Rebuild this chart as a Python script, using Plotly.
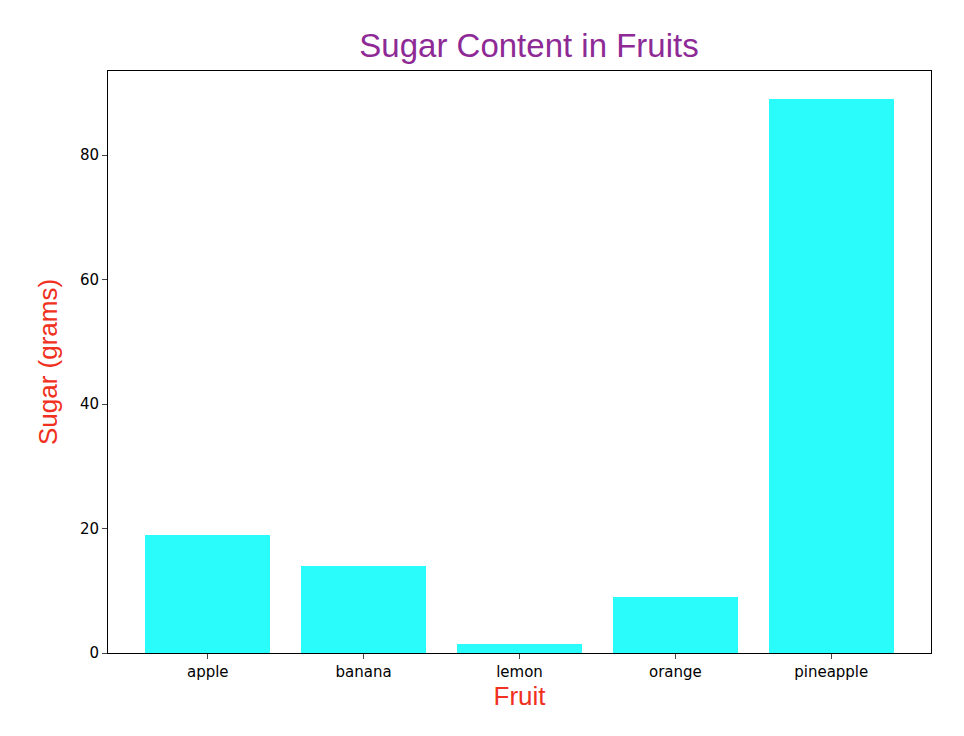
import plotly.graph_objects as go

fruits = ["apple", "banana", "lemon", "orange", "pineapple"]
sugar = [19, 14, 1.5, 9, 89]

fig = go.Figure(go.Bar(x=list(range(len(fruits))), y=sugar, width=0.8,
                       marker=dict(color="#2afcfc", line=dict(width=0))))
fig.update_layout(
    width=956, height=728, paper_bgcolor="white", plot_bgcolor="white",
    margin=dict(l=100, r=33, t=63, b=83),
    font=dict(family="DejaVu Sans", color="black", size=15),
    title=dict(text="Sugar Content in Fruits", x=0.545, xanchor="center", y=0.948, yanchor="middle",
               font=dict(family="Liberation Sans", size=33, color="#8e2a96")),
    showlegend=False,
    bargap=0,
)
fig.update_xaxes(range=[-0.64, 4.64], tickvals=list(range(len(fruits))), ticktext=fruits,
                 showline=True, mirror=True, linecolor="black", linewidth=1,
                 ticks="outside", ticklen=5, showgrid=False, zeroline=False,
                 title=dict(text="Fruit", font=dict(family="Liberation Sans", size=26, color="#f03020"), standoff=6))
fig.update_yaxes(range=[0, 93.5], tickvals=[0, 20, 40, 60, 80],
                 showline=True, mirror=True, linecolor="black", linewidth=1,
                 ticks="outside", ticklen=5, showgrid=False, zeroline=False,
                 title=dict(text="Sugar (grams)", font=dict(family="Liberation Sans", size=26, color="#f03020"), standoff=14))
fig.write_html("out.html")
